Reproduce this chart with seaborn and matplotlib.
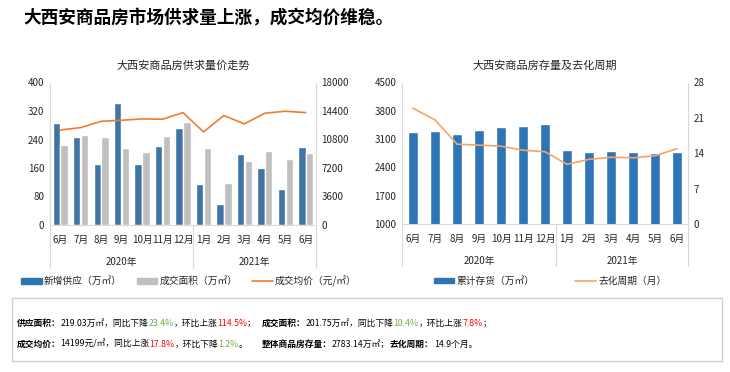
import numpy as np
import pandas as pd
import seaborn as sns
import matplotlib.pyplot as plt
from matplotlib.patches import Rectangle, Patch
from matplotlib.lines import Line2D

#données
mois = ['6月', '7月', '8月', '9月', '10月', '11月', '12月', '1月', '2月', '3月', '4月', '5月', '6月']
cles = ['2020-06', '2020-07', '2020-08', '2020-09', '2020-10', '2020-11', '2020-12',
        '2021-01', '2021-02', '2021-03', '2021-04', '2021-05', '2021-06']
annees = ['2020年', '2021年']
nb_mois_annee = [7, 6]

offre = [285, 248, 170, 342, 171, 223, 272, 115, 60, 198, 160, 100, 219.03]
surface_vendue = [224, 254, 248, 215, 205, 250, 288, 215, 118, 180, 207, 185, 201.75]
prix = [12000, 12300, 13100, 13230, 13400, 13360, 14200, 11760, 13830, 12770, 14120, 14370, 14199]

stock = [3287, 3303, 3220, 3328, 3402, 3419, 3485, 2833, 2780, 2795, 2780, 2745, 2783.14]
cycle = [22.9, 20.6, 15.8, 15.6, 15.4, 14.6, 14.3, 11.8, 12.8, 13.2, 13.1, 13.5, 14.9]

BLEU = '#2E75B6'
GRIS = '#BFBFBF'
ORANGE = '#ED7D31'
ORANGE_CLAIR = '#F4A46A'
VERT = '#70AD47'
ROUGE = '#FF0000'
TRAIT = '#D9D9D9'

sns.set_theme(style='white')
plt.rcParams['font.family'] = ['Noto Sans CJK SC', 'DejaVu Sans']
plt.rcParams['axes.unicode_minus'] = False

fig = plt.figure(figsize=(7.3, 3.72), dpi=100)

fig.text(23 / 730, 1 - 18 / 372, '大西安商品房市场供求量上涨，成交均价维稳。',
         fontsize=12.7, fontweight='bold', va='center', ha='left', color='black')


#habillage commun des deux graphes (axe des mois + années)
def habillage(ax, ax2, titre):
    n = len(mois)
    ax.set_xlim(-0.5, n - 0.5)
    ax.set_xticks(range(n))
    ax.set_xticklabels(mois, fontsize=7)
    ax.tick_params(axis='x', length=0, pad=7)
    ax.tick_params(axis='y', length=0, labelsize=7, pad=4)
    ax2.tick_params(axis='y', length=0, labelsize=7, pad=4)
    ax.set_xlabel('')
    ax.set_ylabel('')
    ax2.set_ylabel('')
    for a in (ax, ax2):
        for s in a.spines.values():
            s.set_visible(False)
    ax.spines['bottom'].set_visible(True)
    ax.spines['bottom'].set_color(TRAIT)
    ax.spines['bottom'].set_linewidth(0.8)
    ax.set_title(titre, fontsize=8, pad=10)

    y_bas = -0.30
    kw = dict(transform=ax.transAxes, color=TRAIT, lw=0.8, clip_on=False)
    ax.plot([0, 0], [y_bas, 1], **kw)
    ax.plot([1, 1], [y_bas, 1], **kw)
    debut = 0
    for annee, nb in zip(annees, nb_mois_annee):
        centre = (debut + nb / 2) / n
        ax.text(centre, -0.26, annee, transform=ax.transAxes, ha='center', va='center', fontsize=7)
        debut += nb
        if debut < n:
            ax.plot([debut / n, debut / n], [y_bas, 0], **kw)


#graphe 1 : offre, surfaces vendues et prix
ax = fig.add_axes([50 / 730, 1 - 225 / 372, 266 / 730, 142.5 / 372])
df1 = pd.DataFrame({
    'cle': cles * 2,
    'valeur': offre + surface_vendue,
    'serie': ['新增供应（万㎡）'] * len(cles) + ['成交面积（万㎡）'] * len(cles)})
sns.barplot(data=df1, x='cle', y='valeur', hue='serie', order=cles,
            palette=[BLEU, GRIS], width=0.76, gap=0.05, ax=ax, legend=False)
ax.set_ylim(0, 400)
ax.set_yticks(np.arange(0, 401, 80))
ax2 = ax.twinx()
sns.lineplot(x=np.arange(len(prix)), y=prix, color=ORANGE, lw=1.2, ax=ax2)
ax2.set_ylim(0, 18000)
ax2.set_yticks(np.arange(0, 18001, 3600))
habillage(ax, ax2, '大西安商品房供求量价走势')

poignees1 = [Patch(color=BLEU), Patch(color=GRIS), Line2D([], [], color=ORANGE, lw=1.2)]
fig.legend(poignees1, ['新增供应（万㎡）', '成交面积（万㎡）', '成交均价（元/㎡）'],
           loc='center', bbox_to_anchor=(189 / 730, 1 - 281 / 372), ncol=3, frameon=False,
           fontsize=7, handlelength=2.1, handleheight=0.55, columnspacing=1.5, handletextpad=0.25)

#graphe 2 : stock et cycle d'écoulement
ax3 = fig.add_axes([402 / 730, 1 - 224 / 372, 286 / 730, 141.5 / 372])
df2 = pd.DataFrame({'cle': cles, 'valeur': stock})
sns.barplot(data=df2, x='cle', y='valeur', order=cles, color=BLEU, saturation=1,
            width=0.42, ax=ax3)
ax3.set_ylim(1000, 4500)
ax3.set_yticks(np.arange(1000, 4501, 700))
ax4 = ax3.twinx()
sns.lineplot(x=np.arange(len(cycle)), y=cycle, color=ORANGE_CLAIR, lw=1.2, ax=ax4)
ax4.set_ylim(0, 28)
ax4.set_yticks(np.arange(0, 29, 7))
habillage(ax3, ax4, '大西安商品房存量及去化周期')

poignees2 = [Patch(color=BLEU), Line2D([], [], color=ORANGE_CLAIR, lw=1.2)]
fig.legend(poignees2, ['累计存货（万㎡）', '去化周期（月）'],
           loc='center', bbox_to_anchor=(550 / 730, 1 - 281 / 372), ncol=2, frameon=False,
           fontsize=7, handlelength=2.1, handleheight=0.55, columnspacing=4.2, handletextpad=0.25)

#encadré de synthèse
fig.patches.append(Rectangle((12 / 730, 1 - 361 / 372), 710 / 730, 63 / 372,
                             transform=fig.transFigure, fill=False, edgecolor='#CFCFCF', lw=1))

ax_txt = fig.add_axes([0, 0, 1, 1])
ax_txt.axis('off')

TAILLE = 6.3


def ligne(x, y, morceaux):
    texte, style = morceaux[0]
    prec = ax_txt.text(x, y, texte, transform=ax_txt.transAxes, va='bottom', ha='left',
                       fontsize=TAILLE, **style)
    for texte, style in morceaux[1:]:
        prec = ax_txt.annotate(texte, xy=(1, 0), xycoords=prec, va='bottom', ha='left',
                               fontsize=TAILLE, **style)


gras = dict(fontweight='bold', color='black')
normal = dict(color='black')
vert = dict(color=VERT)
rouge = dict(color=ROUGE)

y1 = 1 - 328 / 372
y2 = 1 - 349 / 372
col2 = 262 / 730
ligne(16.5 / 730, y1, [('供应面积：', gras), ('219.03万㎡，同比下降', normal), ('23.4%', vert),
                      ('，环比上涨', normal), ('114.5%', rouge), ('；', normal)])
ligne(col2, y1, [('成交面积：', gras), ('201.75万㎡，同比下降', normal), ('10.4%', vert),
                 ('，环比上涨', normal), ('7.8%', rouge), ('；', normal)])
ligne(16.5 / 730, y2, [('成交均价：', gras), ('14199元/㎡，同比上涨', normal), ('17.8%', rouge),
                      ('，环比下降', normal), ('1.2%', vert), ('。', normal)])
ligne(col2, y2, [('整体商品房存量：', gras), ('2783.14万㎡；', normal), ('去化周期：', gras),
                 ('14.9个月。', normal)])

fig.savefig('out.png', dpi=100)
